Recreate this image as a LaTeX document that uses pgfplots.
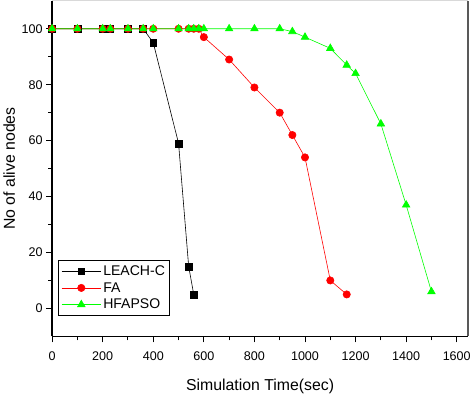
\documentclass[border=0pt]{standalone}
\usepackage{fontspec}
\setmainfont{Liberation Sans}
\usepackage{pgfplots}
\pgfplotsset{compat=1.18}
\begin{document}
\begin{tikzpicture}
\begin{axis}[
  scale only axis,
  width=419bp, height=338bp,
  xmin=0, xmax=1645, ymin=-10, ymax=110,
  xtick={0,200,...,1600}, ytick={0,20,...,100},
  minor x tick num=1, minor y tick num=1,
  axis x line*=bottom, axis y line*=left,
  axis line style={line width=1.6pt},
  tick style={line width=1pt, black},
  major tick length=6bp, minor tick length=4bp,
  tick align=outside,
  /pgf/number format/assume math mode=true,
  /pgf/number format/set thousands separator={},
  tick label style={font=\fontsize{12.7}{14}\selectfont},
  xticklabel style={yshift=-6bp},
  xlabel={Simulation Time(sec)}, ylabel={No of alive nodes},
  label style={font=\fontsize{16}{18}\selectfont},
  xlabel style={yshift=-12bp},
  ylabel style={yshift=0bp},
  clip=false,
  legend style={at={(0.014,0.062)}, anchor=south west, draw=black, line width=0.8pt,
    font=\fontsize{14.2}{16}\selectfont, row sep=1.5pt, inner sep=3pt},
  legend cell align=left,
  legend image code/.code={
    \draw[mark repeat=2,mark phase=2] plot coordinates {(0cm,0cm) (0.7cm,0cm) (1.4cm,0cm)};
  },
]
\draw[gray!30, line width=1.2pt] (axis cs:0,110) -- (axis cs:1645,110);
\draw[gray!70!black, line width=1.5pt] (axis cs:1645,-10) -- (axis cs:1645,110);
\addplot[black, line width=0.6pt, mark=square*, mark size=3.5pt, mark options={solid}] coordinates {
 (0,100) (100,100) (200,100) (230,100) (300,100) (360,100) (400,95) (500,59) (540,15) (560,5)};
\addlegendentry{LEACH-C}
\addplot[red, line width=0.6pt, mark=*, mark size=3.7pt] coordinates {
 (0,100) (100,100) (200,100) (230,100) (300,100) (360,100) (400,100) (500,100) (540,100) (560,100) (580,100)
 (600,97) (700,89) (800,79) (900,70) (950,62) (1000,54) (1100,10) (1165,5)};
\addlegendentry{FA}
\addplot[green, line width=0.6pt, mark=triangle*, mark size=4.4pt] coordinates {
 (0,100) (100,100) (200,100) (230,100) (300,100) (360,100) (400,100) (500,100) (540,100) (560,100) (580,100)
 (600,100) (700,100) (800,100) (900,100) (950,99) (1000,97) (1100,93) (1165,87) (1200,84) (1300,66) (1400,37) (1500,6)};
\addlegendentry{HFAPSO}
\end{axis}
\end{tikzpicture}
\end{document}
